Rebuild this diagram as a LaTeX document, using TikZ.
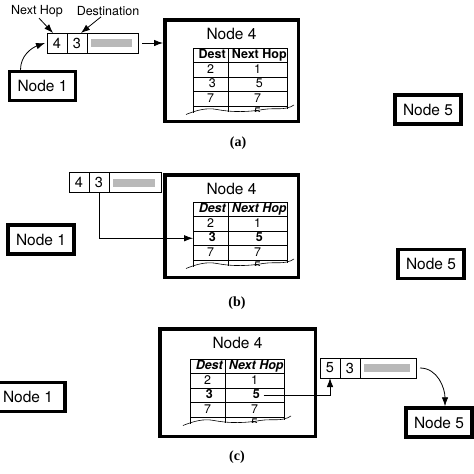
\documentclass[tikz,border=0pt]{standalone}
\usepackage{fontspec}
\setmainfont{TeX Gyre Heros}
\newfontfamily\capfont{Liberation Serif}
\usetikzlibrary{positioning,arrows.meta}

% routing table: name, top left corner, header font, font of the used row
\newcommand{\hoptable}[4]{%
\begin{scope}[shift={#2}]
\node[cl, minimum width=35pt] (#1-h1) at (17.5,7.25) {#3 Dest};
\node[cl, minimum width=59pt, right=0pt of #1-h1] (#1-h2) {#3 Next Hop};
\node[cl, minimum width=35pt, below=0pt of #1-h1] (#1-d1) {2};
\node[cl, minimum width=59pt, below=0pt of #1-h2] (#1-n1) {1};
\node[cl, minimum width=35pt, below=0pt of #1-d1] (#1-d2) {#4 3};
\node[cl, minimum width=59pt, below=0pt of #1-n1] (#1-n2) {#4 5};
\node[cl, minimum width=35pt, below=0pt of #1-d2] (#1-d3) {7};
\node[cl, minimum width=59pt, below=0pt of #1-n2] (#1-n3) {7};
\draw[grid] (#1-h1.north west) -- (#1-h2.north east);
\foreach \r in {1,2,3}
  \draw[grid] (#1-d\r.north west) -- (#1-n\r.north east);
\draw[grid] (#1-d3.south west) -- (#1-n3.south east);
\draw[grid] (0,0) -- (0,65) (35,0) -- (35,63.5) (94,0) -- (94,60.5);
\begin{scope}
\clip (40,58) rectangle (90,63.5);
\node[cl, minimum width=59pt] at (64.5,65.25) {5};
\end{scope}
\draw[grid] (-7,66.5) .. controls (4,62) and (14,59.5) .. (24,61.5)
  .. controls (40,64.5) and (56,64) .. (70,61.5)
  .. controls (82,59.5) and (92,63) .. (101,57);
\end{scope}}

\begin{document}
\begin{tikzpicture}[x=1pt,y=-1pt,
  box/.style={draw, line width=3.5pt, minimum width=66pt, minimum height=29pt, font=\fontsize{15.5}{18}\selectfont},
  bigbox/.style={draw, line width=3.5pt},
  ttl/.style={font=\fontsize{15.5}{18}\selectfont},
  cell/.style={draw, line width=0.7pt, minimum width=20pt, minimum height=20pt, inner sep=0pt, outer sep=0pt, font=\fontsize{14.5}{17}\selectfont},
  cl/.style={minimum height=14.5pt, inner sep=0pt, outer sep=0pt, text height=9pt, text depth=2.5pt, font=\fontsize{12.5}{14}\selectfont},
  grid/.style={line width=0.6pt},
  arr/.style={line width=0.8pt, -{Latex[length=9pt,width=6.5pt]}},
  lbl/.style={font=\fontsize{12.5}{15}\selectfont, inner sep=1pt},
  captxt/.style={font=\capfont\bfseries\fontsize{14}{16}\selectfont}]
\useasboundingbox (0,0) rectangle (474,474);

% (a)
\node[box] (n1a) at (42.5,86) {Node 1};
\node[cell] (pa1) at (57,43) {4};
\node[cell, right=0pt of pa1] (pa2) {3};
\node[cell, minimum width=51pt, right=0pt of pa2] (pa3) {};
\fill[gray!55] ([xshift=4pt,yshift=-6pt]pa3.north west) rectangle ([xshift=-6pt,yshift=6pt]pa3.south east);
\node[lbl] (lnh) at (37,11) {Next Hop};
\node[lbl] (ldst) at (108,11) {Destination};
\draw[arr] ([xshift=2pt]lnh.south) -- ([xshift=-4pt]pa1.north);
\draw[arr] ([xshift=-7pt]ldst.south) -- ([xshift=4pt]pa2.north);
\draw[arr] ([xshift=-22pt]n1a.north) to[out=90,in=200] ([xshift=-2pt]pa1.west);
\node[bigbox, minimum width=133.5pt, minimum height=101.5pt] (n4a) at (231.5,70.5) {};
\node[ttl, below=7pt of n4a.north] (t4a) {Node 4};
\hoptable{a}{(193,48)}{\bfseries}{\mdseries}
\draw[arr] ([xshift=4pt]pa3.east) -- (n4a.west |- pa3.east);
\node[box] (n5a) at (428,109.5) {Node 5};
\node[captxt] (capa) at (238,143) {(a)};

% (b)
\node[box] (n1b) at (41,239.5) {Node 1};
\node[cell] (pb1) at (79,182.5) {4};
\node[cell, right=0pt of pb1] (pb2) {3};
\node[cell, minimum width=52pt, right=0pt of pb2] (pb3) {};
\fill[gray!55] ([xshift=4pt,yshift=-6pt]pb3.north west) rectangle ([xshift=-6pt,yshift=6pt]pb3.south east);
\node[bigbox, minimum width=133.5pt, minimum height=102.5pt] (n4b) at (231.5,226) {};
\node[ttl, below=7pt of n4b.north] (t4b) {Node 4};
\hoptable{b}{(193,202)}{\bfseries\itshape}{\bfseries}
\draw[arr] (pb2.south) |- (b-d2.west);
\node[box] (n5b) at (431,264) {Node 5};
\node[captxt] (capb) at (237,303) {(b)};

% (c)
\node[box, minimum width=74pt] (n1c) at (28,397) {Node 1};
\node[bigbox, minimum width=155.5pt, minimum height=107.5pt] (n4c) at (237.5,382.5) {};
\node[ttl, below=7pt of n4c.north] (t4c) {Node 4};
\hoptable{c}{(190,359)}{\bfseries\itshape}{\bfseries}
\node[cell] (pc1) at (330,368) {5};
\node[cell, right=0pt of pc1] (pc2) {3};
\node[cell, minimum width=56pt, right=0pt of pc2] (pc3) {};
\fill[gray!55] ([xshift=4pt,yshift=-6pt]pc3.north west) rectangle ([xshift=-6pt,yshift=6pt]pc3.south east);
\draw[arr] ([xshift=9pt]c-n2.center) -| (pc1.south);
\node[box] (n5c) at (439,422.5) {Node 5};
\draw[arr] ([xshift=4pt]pc3.east) to[out=0,in=90] ([xshift=6pt]n5c.north);
\node[captxt] (capc) at (237,457) {(c)};
\end{tikzpicture}
\end{document}
